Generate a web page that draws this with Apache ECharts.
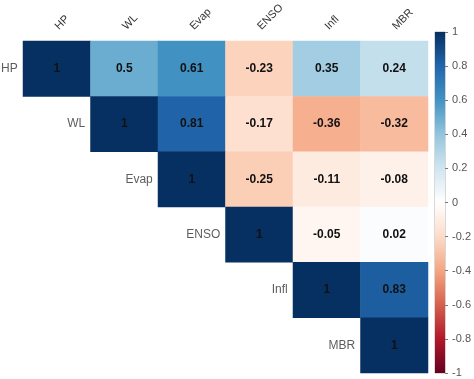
<!DOCTYPE html>
<html><head><meta charset="utf-8">
<script src="https://cdn.jsdelivr.net/npm/echarts@6/dist/echarts.min.js"></script>
<style>html,body{margin:0;padding:0;background:#fff}#c{width:474px;height:379px}</style>
</head><body><div id="c"></div>
<script>
var names = ['HP', 'WL', 'Evap', 'ENSO', 'Infl', 'MBR'];
var rowHP   = [1, 0.5, 0.61, -0.23, 0.35, 0.24];
var rowWL   = [1, 0.81, -0.17, -0.36, -0.32];
var rowEvap = [1, -0.25, -0.11, -0.08];
var rowENSO = [1, -0.05, 0.02];
var rowInfl = [1, 0.83];
var rowMBR  = [1];
var colorbarTicks = [1, 0.8, 0.6, 0.4, 0.2, 0, -0.2, -0.4, -0.6, -0.8, -1];
var palette = ['#67001F', '#B2182B', '#D6604D', '#F4A582', '#FDDBC7', '#FFFFFF', '#D1E5F0', '#92C5DE', '#4393C3', '#2166AC', '#053061'];

var rows = [rowHP, rowWL, rowEvap, rowENSO, rowInfl, rowMBR];
var cells = [];
rows.forEach(function (r, i) {
  r.forEach(function (v, k) { cells.push([i + k, i, v]); });
});
var diag = names.map(function (n, i) { return [i, i, n]; });

var chart = echarts.init(document.getElementById('c'));
chart.setOption({
  backgroundColor: '#fff',
  animation: false,
  grid: [
    { left: 23, right: 46, top: 32, bottom: 6 },
    { left: 435, width: 15, top: 32, bottom: 6, show: true, borderColor: '#666', borderWidth: 0.5 }
  ],
  xAxis: [
    { type: 'category', data: names, position: 'top', gridIndex: 0,
      axisLine: { show: false }, axisTick: { show: false }, splitLine: { show: false },
      axisLabel: { rotate: -45, margin: 13, color: '#333', fontSize: 11, fontFamily: 'Liberation Sans, Arial, sans-serif' } },
    { type: 'category', data: ['c'], gridIndex: 1, show: false }
  ],
  yAxis: [
    { type: 'category', data: names, inverse: true, gridIndex: 0, show: false },
    { type: 'value', gridIndex: 1, min: -1, max: 1, interval: 0.2, position: 'right',
      axisLine: { show: false }, splitLine: { show: false },
      axisTick: { show: true, length: 3, inside: false, lineStyle: { color: '#777' } },
      axisLabel: { margin: 7, color: '#555', fontSize: 11, align: 'left', fontFamily: 'Liberation Sans, Arial, sans-serif',
        formatter: function (v) { return String(Math.round(v * 10) / 10); } } }
  ],
  visualMap: {
    show: false, type: 'continuous', min: -1, max: 1, seriesIndex: 0, dimension: 2,
    inRange: { color: palette }
  },
  series: [
    { type: 'heatmap', xAxisIndex: 0, yAxisIndex: 0, data: cells,
      label: { show: true, color: '#111', fontWeight: 'bold', fontSize: 12, fontFamily: 'Liberation Sans, Arial, sans-serif',
        formatter: function (p) { return String(p.value[2]); } },
      itemStyle: { borderWidth: 0 } },
    { type: 'scatter', xAxisIndex: 0, yAxisIndex: 0, symbolSize: 0, data: diag, silent: true,
      label: { show: true, position: 'left', distance: 39, color: '#333', fontSize: 12, fontFamily: 'Liberation Sans, Arial, sans-serif',
        formatter: function (p) { return p.value[2]; } } },
    { type: 'bar', xAxisIndex: 1, yAxisIndex: 1, data: [colorbarTicks[0]], barWidth: '100%', silent: true,
      itemStyle: { color: new echarts.graphic.LinearGradient(0, 0, 0, 1, palette.slice(5).reverse().map(function (c, i) { return { offset: i / 5, color: c }; })) } },
    { type: 'bar', xAxisIndex: 1, yAxisIndex: 1, data: [colorbarTicks[colorbarTicks.length - 1]], barWidth: '100%', barGap: '-100%', silent: true,
      itemStyle: { color: new echarts.graphic.LinearGradient(0, 0, 0, 1, palette.slice(0, 6).reverse().map(function (c, i) { return { offset: i / 5, color: c }; })) } }
  ]
});
</script></body></html>
